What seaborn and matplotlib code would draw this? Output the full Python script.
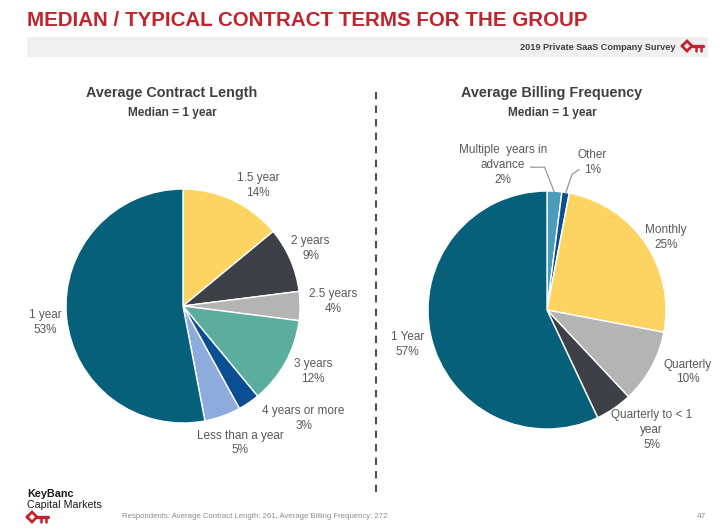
import matplotlib
matplotlib.use("Agg")
import numpy as np
import matplotlib.pyplot as plt
import seaborn as sns
from matplotlib.lines import Line2D
from matplotlib.patches import Rectangle

W, H = 720, 529

contract_labels = ["1.5 year", "2 years", "2.5 years", "3 years",
                   "4 years or more", "Less than a year", "1 year"]
contract_pct = [14, 9, 4, 12, 3, 5, 53]
contract_colors = ["#FDD462", "#3D4047", "#B4B4B4", "#5BAE9D",
                   "#0B4F93", "#8EABDD", "#07607A"]
# label spots, in pie radii from the centre
contract_label_pos = [(0.64, 1.03), (1.09, 0.49), (1.28, 0.04), (1.11, -0.56),
                      (1.03, -0.96), (0.49, -1.17), (-1.18, -0.14)]

billing_labels = ["Multiple  years in\nadvance", "Other", "Monthly", "Quarterly",
                  "Quarterly to < 1\nyear", "1 Year"]
billing_pct = [2, 1, 25, 10, 5, 57]
billing_colors = ["#4B9CBB", "#0B4F93", "#FDD462", "#B4B4B4",
                  "#3D4047", "#07607A"]
billing_label_pos = [(-0.37, 1.22), (0.38, 1.24), (1.0, 0.61), (1.18, -0.52),
                     (0.88, -1.01), (-1.17, -0.29)]
# elbow points of the leader lines for the two thin slices
billing_leaders = {0: [(-0.14, 1.2), (-0.02, 1.2)], 1: [(0.27, 1.18), (0.21, 1.14)]}

sns.set_theme(style="white")
plt.rcParams['font.family'] = ['Liberation Sans', 'DejaVu Sans']

RED = "#C0242C"
LABEL = "#595959"


def px(x, y):
    return x / W, 1 - y / H


def draw_key(fig, x0, y0, s=1.0):
    # little red key logo, left edge x0, mid line y0 (pixels)
    d = 5 * s
    cx = x0 + d
    ring_x = [cx - d, cx, cx + d, cx, cx - d]
    ring_y = [y0, y0 - d, y0, y0 + d, y0]
    pts = [px(a, b) for a, b in zip(ring_x, ring_y)]
    fig.add_artist(Line2D([p[0] for p in pts], [p[1] for p in pts],
                          color=RED, lw=2.0 * s, solid_joinstyle="miter"))
    bar = [px(cx + d, y0), px(x0 + 21 * s, y0)]
    fig.add_artist(Line2D([p[0] for p in bar], [p[1] for p in bar], color=RED, lw=2.4 * s))
    for tx in (x0 + 14 * s, x0 + 19 * s):
        t = [px(tx, y0), px(tx, y0 + 4.5 * s)]
        fig.add_artist(Line2D([p[0] for p in t], [p[1] for p in t], color=RED, lw=1.8 * s))


def pie_axes(fig, cx, cy, r, half=190):
    ax = fig.add_axes([(cx - half) / W, (H - cy - half) / H, 2 * half / W, 2 * half / H])
    return ax, half / r


def draw_pie(ax, lim, values, colors, labels, label_pos, leaders=None):
    wedges, _ = ax.pie(values, colors=colors, startangle=90, counterclock=False,
                       radius=1.0, wedgeprops=dict(edgecolor="white", linewidth=1.0))
    for i, (w, lab, v, (lx, ly)) in enumerate(zip(wedges, labels, values, label_pos)):
        ax.text(lx, ly, f"{lab}\n{v}%", ha="center", va="center",
                fontsize=8.5, color=LABEL, linespacing=1.3)
        if leaders and i in leaders:
            mid = np.deg2rad((w.theta1 + w.theta2) / 2)
            path = leaders[i] + [(0.99 * np.cos(mid), 0.99 * np.sin(mid))]
            ax.plot([p[0] for p in path], [p[1] for p in path], color="#8C8C8C", lw=0.8)
    ax.set_xlim(-lim, lim)
    ax.set_ylim(-lim, lim)
    ax.axis("off")


fig = plt.figure(figsize=(W / 100, H / 100), dpi=100)
fig.patch.set_facecolor("white")

# header
fig.text(*px(27, 20), "MEDIAN / TYPICAL CONTRACT TERMS FOR THE GROUP", color=RED,
         fontsize=14.8, fontweight="bold", ha="left", va="center")
x0, y0 = px(27, 57)
x1, y1 = px(708, 37)
fig.add_artist(Rectangle((x0, y0), x1 - x0, y1 - y0, transform=fig.transFigure,
                         facecolor="#F0F0F0", edgecolor="none"))
fig.text(*px(676, 47), "2019 Private SaaS Company Survey", color="#404040",
         fontsize=6.6, fontweight="bold", ha="right", va="center")
draw_key(fig, 682, 46, 1.0)

# panel titles
for cx, title in [(172, "Average Contract Length"), (552, "Average Billing Frequency")]:
    fig.text(*px(cx, 93), title, color="#404040", fontsize=10.4, fontweight="bold",
             ha="center", va="center")
    fig.text(*px(cx, 113), "Median = 1 year", color="#404040", fontsize=8.6,
             fontweight="bold", ha="center", va="center")

# divider
d = [px(376, 92), px(376, 492)]
fig.add_artist(Line2D([d[0][0], d[1][0]], [d[0][1], d[1][1]], color="#505050",
                      lw=1.5, linestyle=(0, (3.5, 3))))

ax1, lim1 = pie_axes(fig, 183, 306, 117)
draw_pie(ax1, lim1, contract_pct, contract_colors, contract_labels, contract_label_pos)

ax2, lim2 = pie_axes(fig, 547, 310, 119)
draw_pie(ax2, lim2, billing_pct, billing_colors, billing_labels, billing_label_pos,
         leaders=billing_leaders)

# footer
fig.text(*px(27, 494), "KeyBanc", color="#1A1A1A", fontsize=7.8, fontweight="bold",
         ha="left", va="center")
fig.text(*px(27, 505), "Capital Markets", color="#1A1A1A", fontsize=7.7,
         ha="left", va="center")
draw_key(fig, 27, 517, 1.0)
fig.text(*px(122, 517), "Respondents: Average Contract Length: 261, Average Billing Frequency: 272",
         color="#8C8C8C", fontsize=5.6, ha="left", va="center")
fig.text(*px(706, 516), "47", color="#8C8C8C", fontsize=6, ha="right", va="center")

fig.savefig("out.png", dpi=100)
